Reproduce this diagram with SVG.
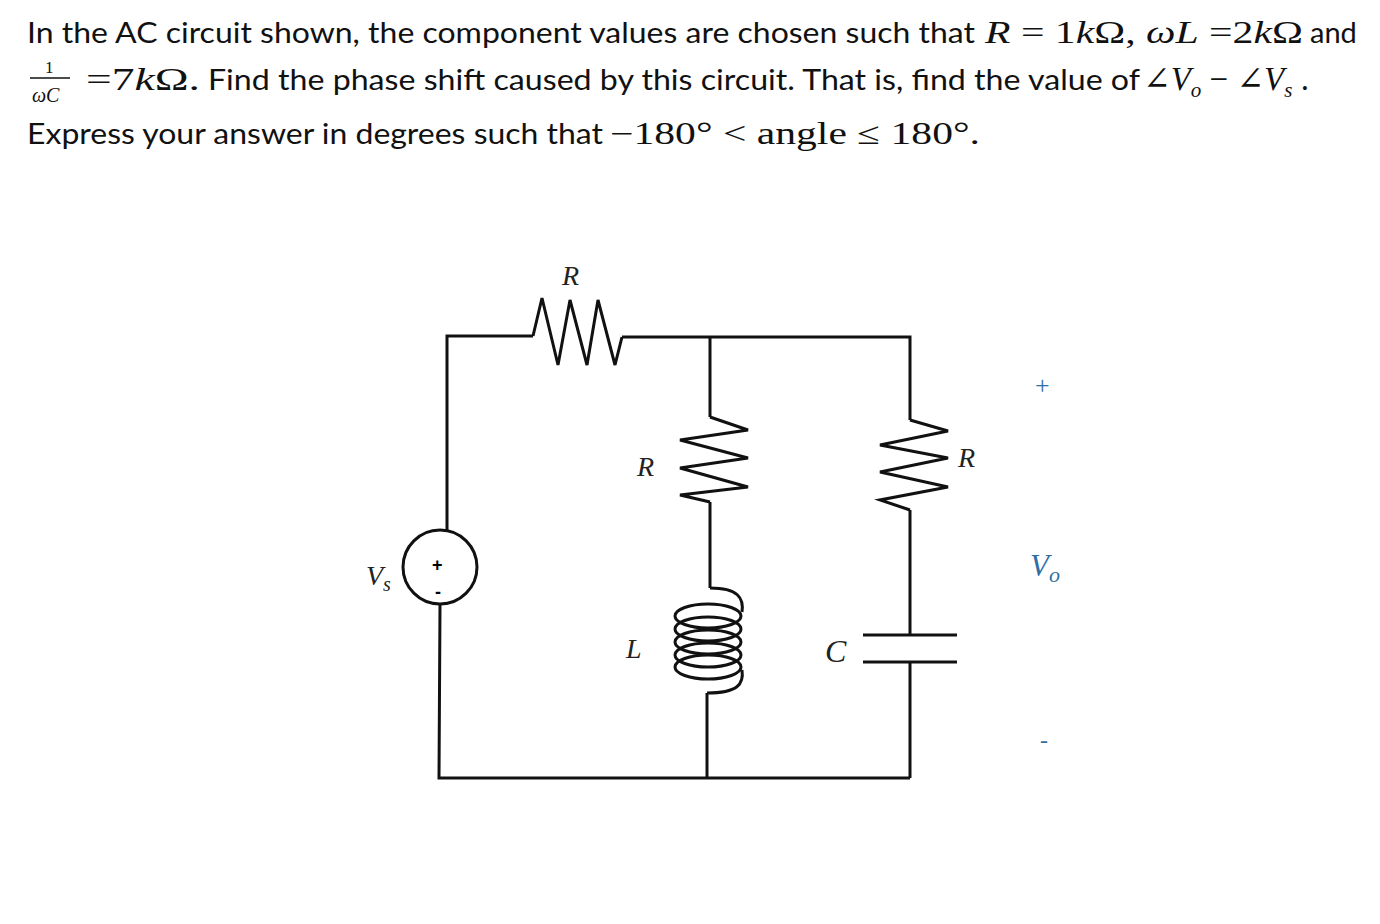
<svg xmlns="http://www.w3.org/2000/svg" width="1380" height="924" viewBox="0 0 1380 924">
<style>
.t{font-family:Lato,"Open Sans",sans-serif;font-size:29px;fill:#111}
.m{font-family:"Liberation Serif","DejaVu Serif",serif;font-size:31px;fill:#111}
.i{font-style:italic}
.w{fill:none;stroke:#111;stroke-width:3;stroke-linejoin:miter}
.lb{font-family:"Liberation Serif",serif;font-style:italic;font-size:28px;fill:#222}
.bl{font-family:"Liberation Serif",serif;font-size:28px;fill:#2f6fa3}
</style>
<rect width="1380" height="924" fill="#fff"/>
<g id="question">
<text class="t" x="27" y="43" textLength="948" lengthAdjust="spacingAndGlyphs">In the AC circuit shown, the component values are chosen such that</text>
<text class="m" x="985" y="43" textLength="318" lengthAdjust="spacingAndGlyphs"><tspan class="i">R</tspan> = 1<tspan class="i">k</tspan>Ω, <tspan class="i">ωL</tspan> =2<tspan class="i">k</tspan>Ω</text>
<text class="t" x="1310" y="43">and</text>
<text class="m" x="45" y="73" style="font-size:17px">1</text>
<line x1="30" y1="78" x2="70" y2="78" stroke="#111" stroke-width="1.5"/>
<text class="m i" x="32" y="102" style="font-size:20px">ωC</text>
<text class="m" x="86" y="90" textLength="114" lengthAdjust="spacingAndGlyphs">=7<tspan class="i">k</tspan>Ω.</text>
<text class="t" x="208" y="90" textLength="932" lengthAdjust="spacingAndGlyphs">Find the phase shift caused by this circuit.  That is, find the value of</text>
<text class="m" x="1143" y="90" style="font-size:33px">∠<tspan class="i">V</tspan><tspan class="i" font-size="21" dy="7">o</tspan><tspan dy="-7"> −  ∠</tspan><tspan class="i">V</tspan><tspan class="i" font-size="21" dy="7">s</tspan><tspan dy="-7"> .</tspan></text>
<text class="t" x="27" y="144" textLength="576" lengthAdjust="spacingAndGlyphs">Express your answer in degrees such that</text>
<text class="m" x="610" y="144" textLength="370" lengthAdjust="spacingAndGlyphs">−180°  &lt; angle ≤ 180°.</text>
</g>
<g id="connectors">
<polyline class="w" points="533,336 447,336 447,530"/>
<polyline class="w" points="440,605 439,778 910,778"/>
<polyline class="w" points="622,337 910,337 910,420"/>
<polyline class="w" points="710,337 710,417"/>
<polyline class="w" points="710,502 710,588"/>
<polyline class="w" points="707,693 707,778"/>
<polyline class="w" points="910,510 910,635"/>
<polyline class="w" points="910,662 910,778"/>
</g>
<g id="R1"><polyline class="w" points="533,336 542,298 558,365 570,300 587,365 598,300 615,365 622,337"/><text class="lb" x="562" y="285">R</text></g>
<g id="R2"><polyline class="w" points="710,417 748,430 680,440 748,458 680,468 748,487 680,495 710,502"/><text class="lb" x="637" y="476">R</text></g>
<g id="L"><path class="w" d="M710,588 C738,588 744,598 742,612 M707,693 C738,693 744,684 742,670"/>
<ellipse class="w" cx="708" cy="616" rx="33" ry="12"/><ellipse class="w" cx="708" cy="629" rx="33" ry="12"/><ellipse class="w" cx="708" cy="642" rx="33" ry="12"/><ellipse class="w" cx="708" cy="655" rx="33" ry="12"/><ellipse class="w" cx="708" cy="667" rx="33" ry="12"/>
<text class="lb" x="626" y="658">L</text></g>
<g id="R3"><polyline class="w" points="910,420 948,431 880,445 948,458 880,472 948,487 880,500 910,510"/><text class="lb" x="958" y="467">R</text></g>
<g id="C"><line class="w" x1="863" y1="635" x2="957" y2="635"/><line class="w" x1="863" y1="662" x2="957" y2="662"/><text class="lb" x="825" y="662" style="font-size:32px">C</text></g>
<g id="Vs"><circle class="w" cx="440" cy="567" r="37"/><text x="432" y="571" font-family="Liberation Sans,sans-serif" font-size="18" font-weight="bold">+</text><text x="435" y="598" font-family="Liberation Sans,sans-serif" font-size="18" font-weight="bold">-</text>
<text class="lb" x="366" y="585">V<tspan font-size="20" dy="6">s</tspan></text></g>
<g id="Vo"><text class="bl" x="1035" y="394" style="font-size:26px">+</text><text class="bl" x="1030" y="576" style="font-size:31px;font-style:italic">V<tspan font-size="22" dy="6">o</tspan></text><text class="bl" x="1040" y="748" style="font-size:24px">-</text></g>
</svg>
